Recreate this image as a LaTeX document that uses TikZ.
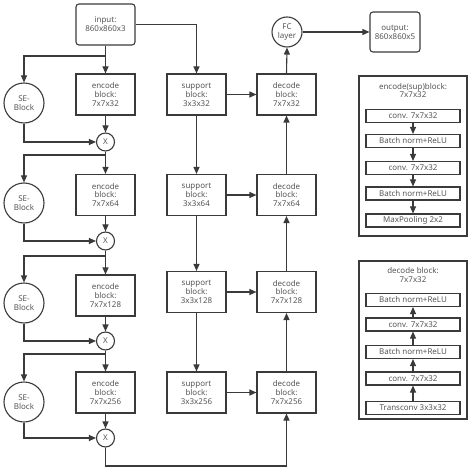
\documentclass[tikz,border=0pt]{standalone}
\usepackage{fontspec}
\setmainfont{Noto Sans}
\usetikzlibrary{arrows.meta}
\definecolor{ln}{HTML}{3A3A3A}
\definecolor{tx}{HTML}{555555}
\begin{document}
\begin{tikzpicture}[x=1bp,y=-1bp,
  every node/.style={font=\fontsize{8}{9}\selectfont, text=tx, inner sep=0pt, align=center},
  blk/.style={draw=ln, line width=1.1bp, minimum width=59bp, minimum height=41bp},
  rblk/.style={blk, rounded corners=3bp},
  se/.style={draw=ln, line width=1.1bp, circle, minimum size=40bp},
  mul/.style={draw=ln, line width=1.1bp, circle, minimum size=18bp},
  panel/.style={draw=ln, line width=1.1bp},
  inbox/.style={draw=ln, line width=1.1bp, minimum width=94bp, minimum height=13bp},
  arr/.style={draw=ln, line width=1.1bp, -{Triangle[length=7bp,width=6bp]}},
  ln/.style={draw=ln, line width=1.1bp}]
\useasboundingbox (0,0) rectangle (474,470);
% main nodes
\node[rblk] (input) at (105.5,24.5) {input:\\860x860x3};
\node[blk] (enc1) at (105.5,94.5) {encode\\block:\\7x7x32};
\node[blk] (enc2) at (105.5,195) {encode\\block:\\7x7x64};
\node[blk] (enc3) at (105.5,295.5) {encode\\block:\\7x7x128};
\node[blk] (enc4) at (105.5,392.5) {encode\\block:\\7x7x256};
\node[blk] (sup1) at (196.5,94.5) {support\\block:\\3x3x32};
\node[blk] (sup2) at (196.5,195) {support\\block:\\3x3x64};
\node[blk] (sup3) at (196.5,292) {support\\block:\\3x3x128};
\node[blk] (sup4) at (196.5,392.5) {support\\block:\\3x3x256};
\node[blk] (dec1) at (286.5,94.5) {decode\\block:\\7x7x32};
\node[blk] (dec2) at (286.5,195) {decode\\block:\\7x7x64};
\node[blk] (dec3) at (286.5,292) {decode\\block:\\7x7x128};
\node[blk] (dec4) at (286.5,392.5) {decode\\block:\\7x7x256};
\node[se] (se1) at (24,103) {SE-\\Block};
\node[se] (se2) at (24,203) {SE-\\Block};
\node[se] (se3) at (24,303) {SE-\\Block};
\node[se] (se4) at (24,402) {SE-\\Block};
\node[mul] (x1) at (105.5,142) {X};
\node[mul] (x2) at (105.5,241) {X};
\node[mul] (x3) at (105.5,341) {X};
\node[mul] (x4) at (105.5,438) {X};
\node[draw=ln, line width=1.1bp, circle, minimum size=30bp] (fc) at (287,32) {FC\\layer};
\node[rblk, minimum width=50bp, minimum height=40bp] (output) at (395,32) {output:\\860x860x5};
\coordinate (b1) at (105.5,56);
\coordinate (b2) at (105.5,155);
\coordinate (b3) at (105.5,256);
\coordinate (b4) at (105.5,354);
\coordinate (bot) at (105.5,466);
% connectors
\draw[arr] (input.east) -| (sup1.north);
\draw[arr] (input.south) -- (enc1.north);
\draw[arr] (b1) -| (se1.north);
\draw[arr] (enc1.south) -- (x1.north);
\draw[arr] (se1.south) |- (x1.west);
\draw[arr] (x1.south) -- (enc2.north);
\draw[arr] (b2) -| (se2.north);
\draw[arr] (enc2.south) -- (x2.north);
\draw[arr] (se2.south) |- (x2.west);
\draw[arr] (x2.south) -- (enc3.north);
\draw[arr] (b3) -| (se3.north);
\draw[arr] (enc3.south) -- (x3.north);
\draw[arr] (se3.south) |- (x3.west);
\draw[arr] (x3.south) -- (enc4.north);
\draw[arr] (b4) -| (se4.north);
\draw[arr] (enc4.south) -- (x4.north);
\draw[arr] (se4.south) |- (x4.west);
\draw[arr] (x4.south) -- (bot) -| (dec4.south);
\draw[arr] (sup1.south) -- (sup2.north);
\draw[arr] (sup2.south) -- (sup3.north);
\draw[arr] (sup3.south) -- (sup4.north);
\draw[arr] (sup1.east) -- (dec1.west);
\draw[arr] (sup2.east) -- (dec2.west);
\draw[arr] (sup3.east) -- (dec3.west);
\draw[arr] (sup4.east) -- (dec4.west);
\draw[arr] (dec4.north) -- (dec3.south);
\draw[arr] (dec3.north) -- (dec2.south);
\draw[arr] (dec2.north) -- (dec1.south);
\draw[arr] (dec1.north) -- (fc.south);
\draw[arr] (fc.east) -- (output.west);
% panel 1
\node[panel, minimum width=108bp, minimum height=160bp] (p1) at (413,156) {};
\node (p1t) at (413,90.5) {encode(sup)block:\\7x7x32};
\node[inbox] (c1) at (413,116) {conv. 7x7x32};
\node[inbox] (n1) at (413,141) {Batch norm+ReLU};
\node[inbox] (c2) at (413,168) {conv. 7x7x32};
\node[inbox] (n2) at (413,193.5) {Batch norm+ReLU};
\node[inbox] (mp) at (413,220.5) {MaxPooling 2x2};
\draw[arr] (c1.south) -- (n1.north);
\draw[arr] (n1.south) -- (c2.north);
\draw[arr] (c2.south) -- (n2.north);
\draw[arr] (n2.south) -- (mp.north);
% panel 2
\node[panel, minimum width=108bp, minimum height=158bp] (p2) at (413,340) {};
\node (p2t) at (413,275) {decode block:\\7x7x32};
\node[inbox] (d1) at (413,300) {Batch norm+ReLU};
\node[inbox] (d2) at (413,324.5) {conv. 7x7x32};
\node[inbox] (d3) at (413,352) {Batch norm+ReLU};
\node[inbox] (d4) at (413,378.5) {conv. 7x7x32};
\node[inbox] (d5) at (413,408) {Transconv 3x3x32};
\draw[arr] (d5.north) -- (d4.south);
\draw[arr] (d4.north) -- (d3.south);
\draw[arr] (d3.north) -- (d2.south);
\draw[arr] (d2.north) -- (d1.south);
\end{tikzpicture}
\end{document}
